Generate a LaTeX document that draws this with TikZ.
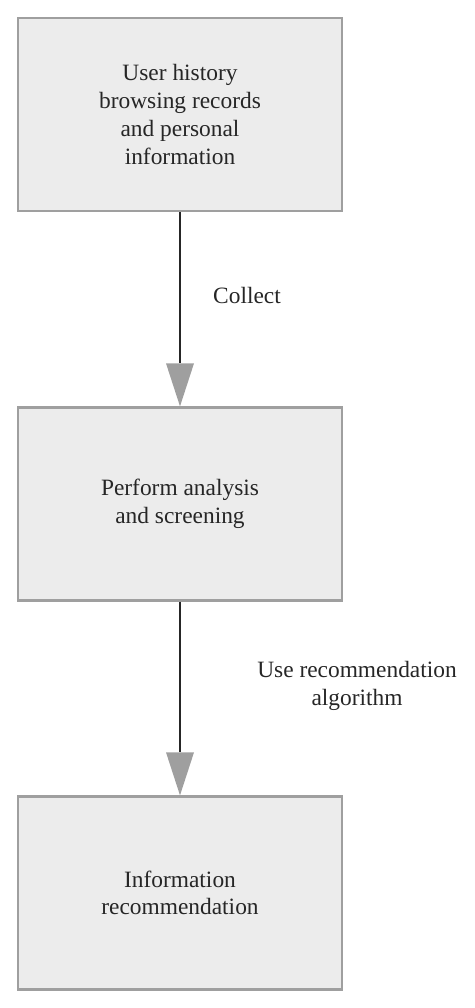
\documentclass[tikz,border=0pt]{standalone}
\usepackage{fontspec}
\setmainfont{Liberation Serif}
\begin{document}
\begin{tikzpicture}[x=1pt,y=-1pt,
  box/.style={draw=gray!75,line width=2.3pt,fill=gray!15,minimum width=324pt,minimum height=193pt,align=center,font=\fontsize{23.4}{27.7}\selectfont,text=black!85,inner sep=0pt},
  lbl/.style={align=center,font=\fontsize{23.4}{27.7}\selectfont,text=black!85,inner sep=0pt},
  conn/.style={line width=2.2pt,black!85,shorten >=43pt},
  headtri/.style={fill=gray!75,draw=none}]
\useasboundingbox (0,0) rectangle (474,1008);
\node[box] (a) at (180,114.5) {User history\\browsing records\\and personal\\information};
\node[box] (b) at (180,504) {Perform analysis\\and screening};
\node[box] (c) at (180,893) {Information\\recommendation};
\draw[conn] (a.south) -- (b.north);
\draw[conn] (b.south) -- (c.north);
\fill[headtri] ([xshift=-14pt,yshift=43pt]b.north) -- ([xshift=14pt,yshift=43pt]b.north) -- (b.north) -- cycle;
\fill[headtri] ([xshift=-14pt,yshift=43pt]c.north) -- ([xshift=14pt,yshift=43pt]c.north) -- (c.north) -- cycle;
\node[lbl,anchor=west] (l1) at (213,295) {Collect};
\node[lbl] (l2) at (357,686) {Use recommendation\\algorithm};
\end{tikzpicture}
\end{document}
